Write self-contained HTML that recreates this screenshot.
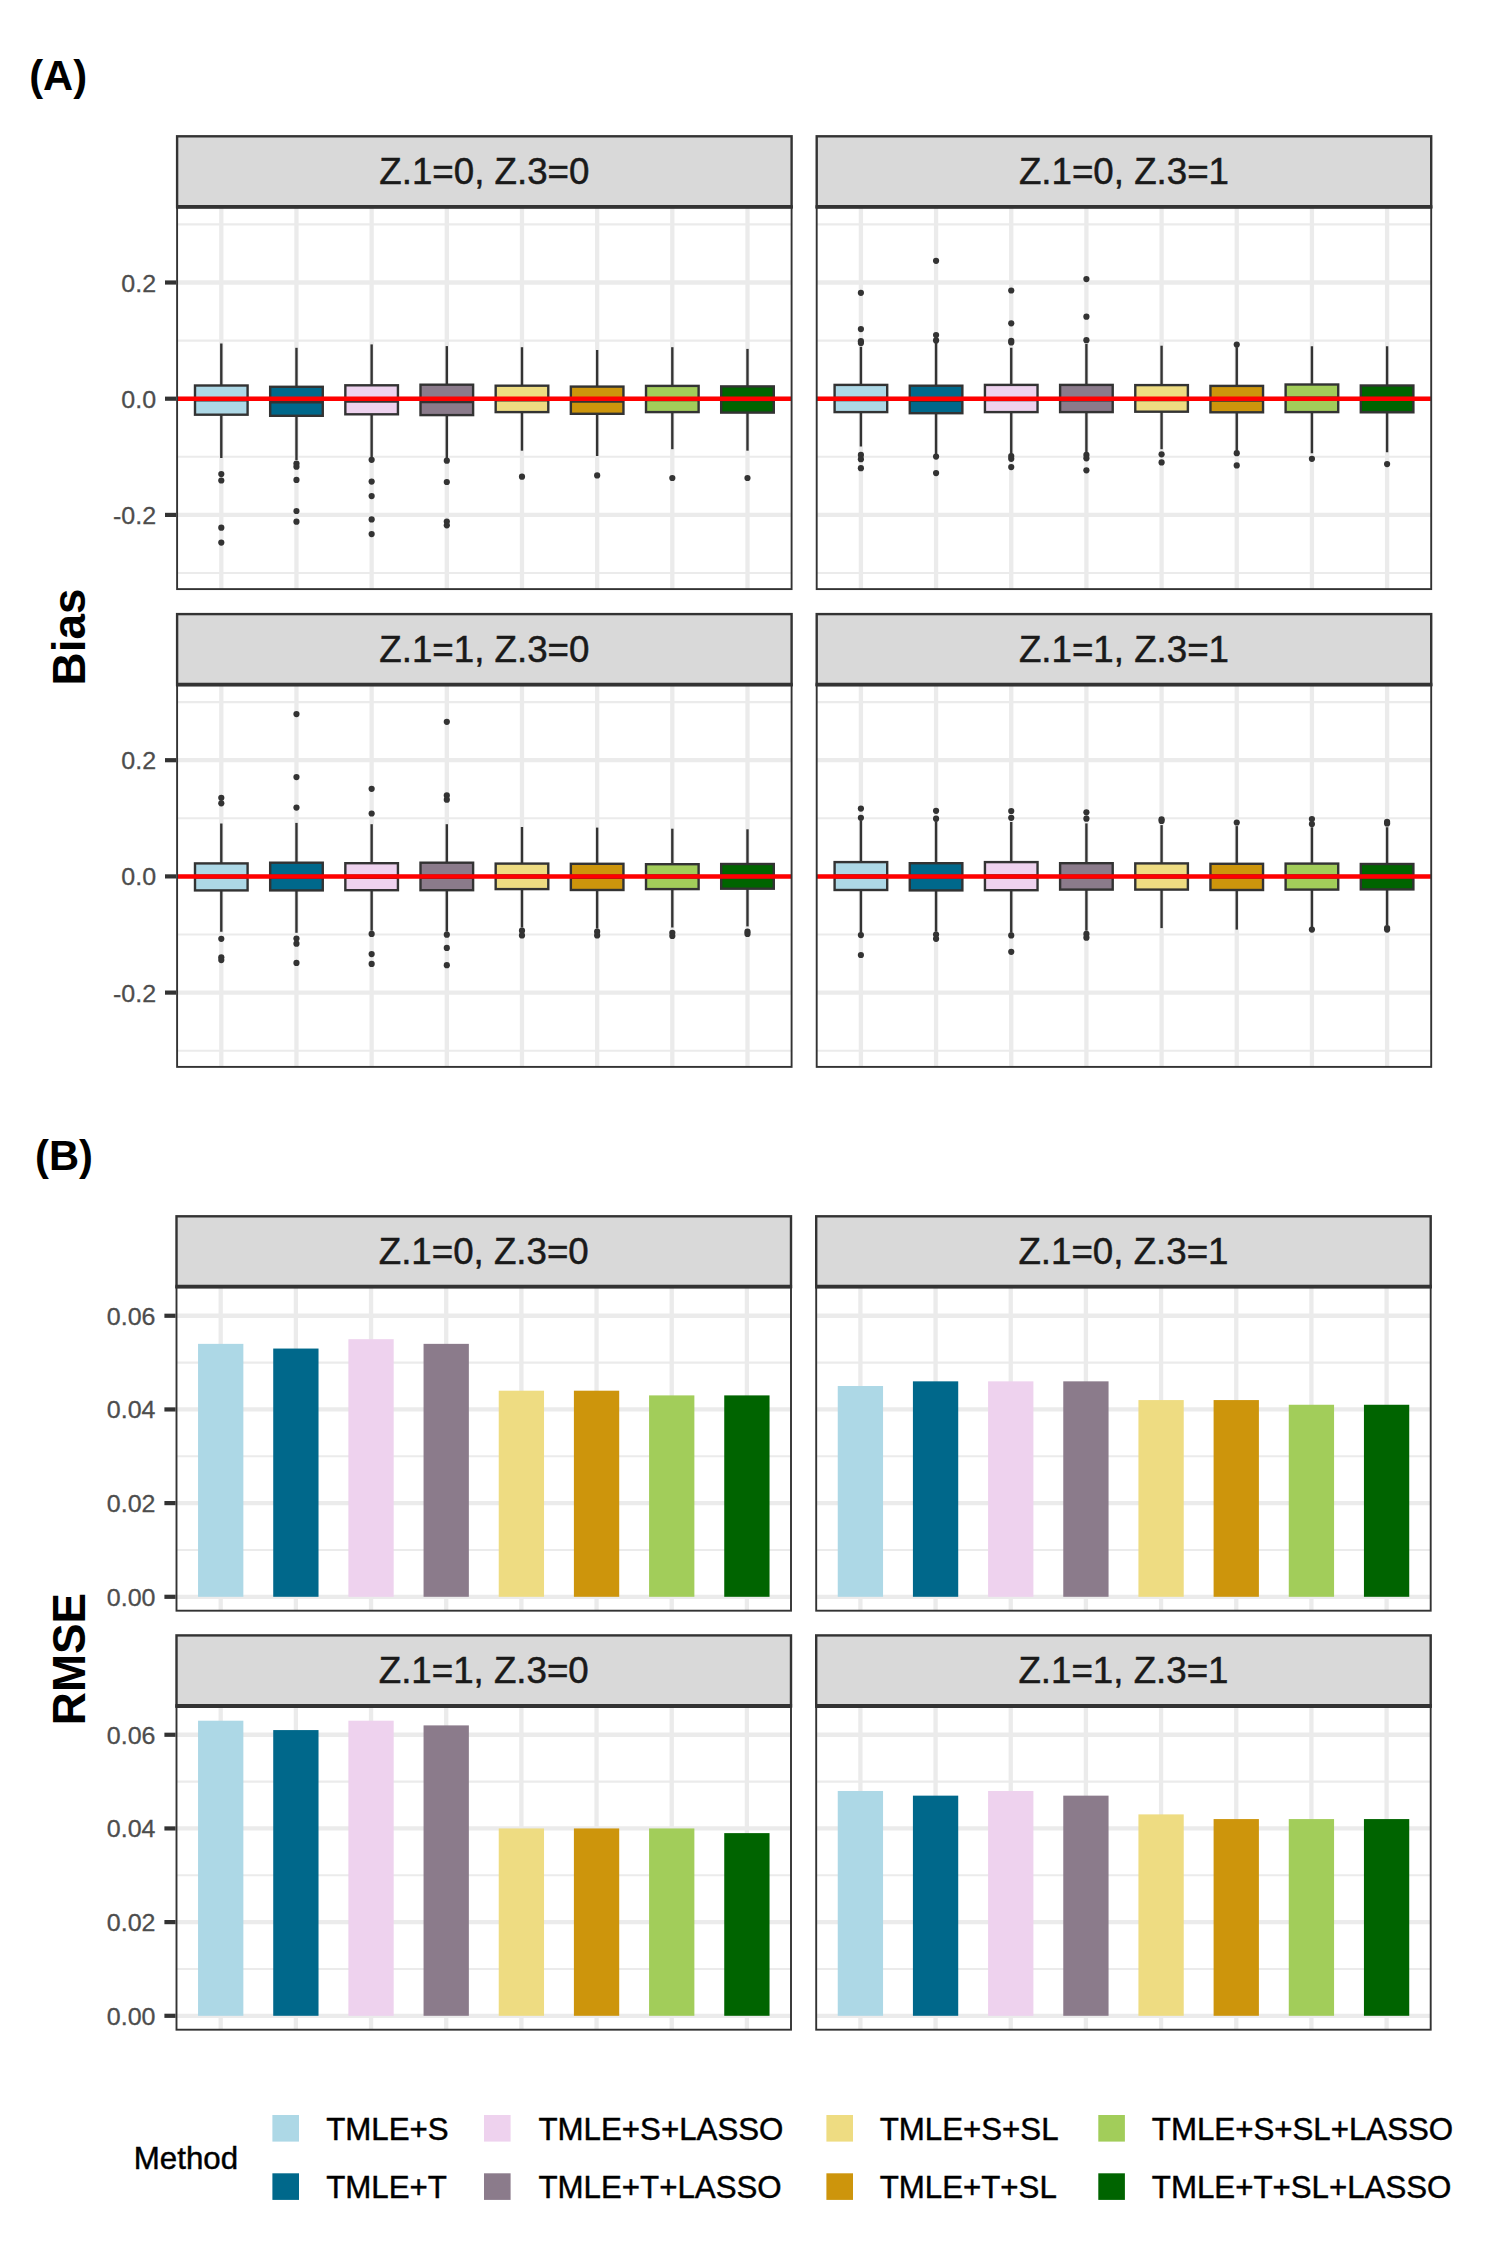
<!DOCTYPE html>
<html lang="en">
<head>
<meta charset="utf-8">
<title>Bias and RMSE by method</title>
<style>html,body{margin:0;padding:0;background:#fff}svg{display:block}</style>
</head>
<body>
<svg width="1500" height="2250" viewBox="0 0 1500 2250" font-family='"Liberation Sans", sans-serif'>
<rect width="1500" height="2250" fill="#fff"/>
<text x="29.2" y="90.3" font-size="41.7" font-weight="bold" fill="#000">(A)</text>
<text x="35.0" y="1170.3" font-size="41.7" font-weight="bold" fill="#000">(B)</text>
<clipPath id="c1"><rect x="177.1" y="207.1" width="614.5" height="382"/></clipPath>
<g clip-path="url(#c1)">
<rect x="177.1" y="207.1" width="614.5" height="382" fill="#fff"/>
<line x1="177.1" x2="791.6" y1="224.4" y2="224.4" stroke="#EBEBEB" stroke-width="2.1"/>
<line x1="177.1" x2="791.6" y1="340.6" y2="340.6" stroke="#EBEBEB" stroke-width="2.1"/>
<line x1="177.1" x2="791.6" y1="456.8" y2="456.8" stroke="#EBEBEB" stroke-width="2.1"/>
<line x1="177.1" x2="791.6" y1="573" y2="573" stroke="#EBEBEB" stroke-width="2.1"/>
<line x1="177.1" x2="791.6" y1="282.5" y2="282.5" stroke="#EBEBEB" stroke-width="4.3"/>
<line x1="177.1" x2="791.6" y1="398.7" y2="398.7" stroke="#EBEBEB" stroke-width="4.3"/>
<line x1="177.1" x2="791.6" y1="514.9" y2="514.9" stroke="#EBEBEB" stroke-width="4.3"/>
<line x1="221.3" x2="221.3" y1="207.1" y2="589.1" stroke="#EBEBEB" stroke-width="4.3"/>
<line x1="296.47" x2="296.47" y1="207.1" y2="589.1" stroke="#EBEBEB" stroke-width="4.3"/>
<line x1="371.64" x2="371.64" y1="207.1" y2="589.1" stroke="#EBEBEB" stroke-width="4.3"/>
<line x1="446.81" x2="446.81" y1="207.1" y2="589.1" stroke="#EBEBEB" stroke-width="4.3"/>
<line x1="521.98" x2="521.98" y1="207.1" y2="589.1" stroke="#EBEBEB" stroke-width="4.3"/>
<line x1="597.15" x2="597.15" y1="207.1" y2="589.1" stroke="#EBEBEB" stroke-width="4.3"/>
<line x1="672.32" x2="672.32" y1="207.1" y2="589.1" stroke="#EBEBEB" stroke-width="4.3"/>
<line x1="747.49" x2="747.49" y1="207.1" y2="589.1" stroke="#EBEBEB" stroke-width="4.3"/>
<circle cx="221.3" cy="474.1" r="3.1" fill="#333333"/>
<circle cx="221.3" cy="480.5" r="3.1" fill="#333333"/>
<circle cx="221.3" cy="527.7" r="3.1" fill="#333333"/>
<circle cx="221.3" cy="542.6" r="3.1" fill="#333333"/>
<line x1="221.3" x2="221.3" y1="343.4" y2="385.5" stroke="#333333" stroke-width="2.4"/>
<line x1="221.3" x2="221.3" y1="414.7" y2="458.1" stroke="#333333" stroke-width="2.4"/>
<rect x="195" y="385.5" width="52.6" height="29.2" fill="#ADD8E6" stroke="#333333" stroke-width="2.4"/>
<line x1="195" x2="247.6" y1="399.3" y2="399.3" stroke="#333333" stroke-width="4.4"/>
<circle cx="296.47" cy="463.5" r="3.1" fill="#333333"/>
<circle cx="296.47" cy="466.7" r="3.1" fill="#333333"/>
<circle cx="296.47" cy="479.9" r="3.1" fill="#333333"/>
<circle cx="296.47" cy="511" r="3.1" fill="#333333"/>
<circle cx="296.47" cy="521.7" r="3.1" fill="#333333"/>
<line x1="296.47" x2="296.47" y1="347.8" y2="386.8" stroke="#333333" stroke-width="2.4"/>
<line x1="296.47" x2="296.47" y1="415.8" y2="460" stroke="#333333" stroke-width="2.4"/>
<rect x="270.17" y="386.8" width="52.6" height="29" fill="#00688B" stroke="#333333" stroke-width="2.4"/>
<line x1="270.17" x2="322.77" y1="401.4" y2="401.4" stroke="#333333" stroke-width="4.4"/>
<circle cx="371.64" cy="459.8" r="3.1" fill="#333333"/>
<circle cx="371.64" cy="481.6" r="3.1" fill="#333333"/>
<circle cx="371.64" cy="496.1" r="3.1" fill="#333333"/>
<circle cx="371.64" cy="519.4" r="3.1" fill="#333333"/>
<circle cx="371.64" cy="534.1" r="3.1" fill="#333333"/>
<line x1="371.64" x2="371.64" y1="344.4" y2="385.3" stroke="#333333" stroke-width="2.4"/>
<line x1="371.64" x2="371.64" y1="414.3" y2="457" stroke="#333333" stroke-width="2.4"/>
<rect x="345.34" y="385.3" width="52.6" height="29" fill="#EED2EE" stroke="#333333" stroke-width="2.4"/>
<line x1="345.34" x2="397.94" y1="400.5" y2="400.5" stroke="#333333" stroke-width="4.4"/>
<circle cx="446.81" cy="460.7" r="3.1" fill="#333333"/>
<circle cx="446.81" cy="482" r="3.1" fill="#333333"/>
<circle cx="446.81" cy="521.5" r="3.1" fill="#333333"/>
<circle cx="446.81" cy="525.3" r="3.1" fill="#333333"/>
<line x1="446.81" x2="446.81" y1="346.1" y2="384.7" stroke="#333333" stroke-width="2.4"/>
<line x1="446.81" x2="446.81" y1="415.1" y2="458" stroke="#333333" stroke-width="2.4"/>
<rect x="420.51" y="384.7" width="52.6" height="30.4" fill="#8B7B8B" stroke="#333333" stroke-width="2.4"/>
<line x1="420.51" x2="473.11" y1="401" y2="401" stroke="#333333" stroke-width="4.4"/>
<circle cx="521.98" cy="476.7" r="3.1" fill="#333333"/>
<line x1="521.98" x2="521.98" y1="347.2" y2="385.7" stroke="#333333" stroke-width="2.4"/>
<line x1="521.98" x2="521.98" y1="412.1" y2="450.7" stroke="#333333" stroke-width="2.4"/>
<rect x="495.68" y="385.7" width="52.6" height="26.4" fill="#EEDC82" stroke="#333333" stroke-width="2.4"/>
<line x1="495.68" x2="548.28" y1="399.3" y2="399.3" stroke="#333333" stroke-width="4.4"/>
<circle cx="597.15" cy="475.4" r="3.1" fill="#333333"/>
<line x1="597.15" x2="597.15" y1="350" y2="386.6" stroke="#333333" stroke-width="2.4"/>
<line x1="597.15" x2="597.15" y1="413.8" y2="456" stroke="#333333" stroke-width="2.4"/>
<rect x="570.85" y="386.6" width="52.6" height="27.2" fill="#CD950C" stroke="#333333" stroke-width="2.4"/>
<line x1="570.85" x2="623.45" y1="400.5" y2="400.5" stroke="#333333" stroke-width="4.4"/>
<circle cx="672.32" cy="478" r="3.1" fill="#333333"/>
<line x1="672.32" x2="672.32" y1="347.2" y2="385.9" stroke="#333333" stroke-width="2.4"/>
<line x1="672.32" x2="672.32" y1="412.1" y2="449.2" stroke="#333333" stroke-width="2.4"/>
<rect x="646.02" y="385.9" width="52.6" height="26.2" fill="#A2CD5A" stroke="#333333" stroke-width="2.4"/>
<line x1="646.02" x2="698.62" y1="399.1" y2="399.1" stroke="#333333" stroke-width="4.4"/>
<circle cx="747.49" cy="478" r="3.1" fill="#333333"/>
<line x1="747.49" x2="747.49" y1="348.9" y2="386.4" stroke="#333333" stroke-width="2.4"/>
<line x1="747.49" x2="747.49" y1="412.6" y2="450.7" stroke="#333333" stroke-width="2.4"/>
<rect x="721.19" y="386.4" width="52.6" height="26.2" fill="#006400" stroke="#333333" stroke-width="2.4"/>
<line x1="721.19" x2="773.79" y1="399.2" y2="399.2" stroke="#333333" stroke-width="4.4"/>
<line x1="177.1" x2="791.6" y1="398.7" y2="398.7" stroke="#FF0000" stroke-width="4.5"/>
</g>
<rect x="177.1" y="207.1" width="614.5" height="382" fill="none" stroke="#333333" stroke-width="1.9"/>
<rect x="177.1" y="136.3" width="614.5" height="70.8" fill="#D9D9D9" stroke="#333333" stroke-width="2.4"/>
<line x1="176" x2="792.7" y1="206.8" y2="206.8" stroke="#333333" stroke-width="3.8"/>
<text x="484.35" y="184.1" font-size="36.7" text-anchor="middle" fill="#1A1A1A" stroke="#1A1A1A" stroke-width="0.5">Z.1=0, Z.3=0</text>
<clipPath id="c2"><rect x="816.7" y="207.1" width="614.5" height="382"/></clipPath>
<g clip-path="url(#c2)">
<rect x="816.7" y="207.1" width="614.5" height="382" fill="#fff"/>
<line x1="816.7" x2="1431.2" y1="224.4" y2="224.4" stroke="#EBEBEB" stroke-width="2.1"/>
<line x1="816.7" x2="1431.2" y1="340.6" y2="340.6" stroke="#EBEBEB" stroke-width="2.1"/>
<line x1="816.7" x2="1431.2" y1="456.8" y2="456.8" stroke="#EBEBEB" stroke-width="2.1"/>
<line x1="816.7" x2="1431.2" y1="573" y2="573" stroke="#EBEBEB" stroke-width="2.1"/>
<line x1="816.7" x2="1431.2" y1="282.5" y2="282.5" stroke="#EBEBEB" stroke-width="4.3"/>
<line x1="816.7" x2="1431.2" y1="398.7" y2="398.7" stroke="#EBEBEB" stroke-width="4.3"/>
<line x1="816.7" x2="1431.2" y1="514.9" y2="514.9" stroke="#EBEBEB" stroke-width="4.3"/>
<line x1="860.9" x2="860.9" y1="207.1" y2="589.1" stroke="#EBEBEB" stroke-width="4.3"/>
<line x1="936.07" x2="936.07" y1="207.1" y2="589.1" stroke="#EBEBEB" stroke-width="4.3"/>
<line x1="1011.24" x2="1011.24" y1="207.1" y2="589.1" stroke="#EBEBEB" stroke-width="4.3"/>
<line x1="1086.41" x2="1086.41" y1="207.1" y2="589.1" stroke="#EBEBEB" stroke-width="4.3"/>
<line x1="1161.58" x2="1161.58" y1="207.1" y2="589.1" stroke="#EBEBEB" stroke-width="4.3"/>
<line x1="1236.75" x2="1236.75" y1="207.1" y2="589.1" stroke="#EBEBEB" stroke-width="4.3"/>
<line x1="1311.92" x2="1311.92" y1="207.1" y2="589.1" stroke="#EBEBEB" stroke-width="4.3"/>
<line x1="1387.09" x2="1387.09" y1="207.1" y2="589.1" stroke="#EBEBEB" stroke-width="4.3"/>
<circle cx="860.9" cy="292.8" r="3.1" fill="#333333"/>
<circle cx="860.9" cy="329.1" r="3.1" fill="#333333"/>
<circle cx="860.9" cy="341.2" r="3.1" fill="#333333"/>
<circle cx="860.9" cy="342.9" r="3.1" fill="#333333"/>
<circle cx="860.9" cy="454.9" r="3.1" fill="#333333"/>
<circle cx="860.9" cy="459.2" r="3.1" fill="#333333"/>
<circle cx="860.9" cy="468.2" r="3.1" fill="#333333"/>
<line x1="860.9" x2="860.9" y1="346.8" y2="384.9" stroke="#333333" stroke-width="2.4"/>
<line x1="860.9" x2="860.9" y1="412.1" y2="446.4" stroke="#333333" stroke-width="2.4"/>
<rect x="834.6" y="384.9" width="52.6" height="27.2" fill="#ADD8E6" stroke="#333333" stroke-width="2.4"/>
<line x1="834.6" x2="887.2" y1="399" y2="399" stroke="#333333" stroke-width="4.4"/>
<circle cx="936.07" cy="260.8" r="3.1" fill="#333333"/>
<circle cx="936.07" cy="335" r="3.1" fill="#333333"/>
<circle cx="936.07" cy="340.4" r="3.1" fill="#333333"/>
<circle cx="936.07" cy="456.6" r="3.1" fill="#333333"/>
<circle cx="936.07" cy="473.1" r="3.1" fill="#333333"/>
<line x1="936.07" x2="936.07" y1="342.9" y2="385.7" stroke="#333333" stroke-width="2.4"/>
<line x1="936.07" x2="936.07" y1="413.2" y2="453.9" stroke="#333333" stroke-width="2.4"/>
<rect x="909.77" y="385.7" width="52.6" height="27.5" fill="#00688B" stroke="#333333" stroke-width="2.4"/>
<line x1="909.77" x2="962.37" y1="399.7" y2="399.7" stroke="#333333" stroke-width="4.4"/>
<circle cx="1011.24" cy="290.5" r="3.1" fill="#333333"/>
<circle cx="1011.24" cy="323.3" r="3.1" fill="#333333"/>
<circle cx="1011.24" cy="340.8" r="3.1" fill="#333333"/>
<circle cx="1011.24" cy="342.5" r="3.1" fill="#333333"/>
<circle cx="1011.24" cy="456" r="3.1" fill="#333333"/>
<circle cx="1011.24" cy="458.8" r="3.1" fill="#333333"/>
<circle cx="1011.24" cy="467.1" r="3.1" fill="#333333"/>
<line x1="1011.24" x2="1011.24" y1="347.8" y2="384.9" stroke="#333333" stroke-width="2.4"/>
<line x1="1011.24" x2="1011.24" y1="412.1" y2="453.9" stroke="#333333" stroke-width="2.4"/>
<rect x="984.94" y="384.9" width="52.6" height="27.2" fill="#EED2EE" stroke="#333333" stroke-width="2.4"/>
<line x1="984.94" x2="1037.54" y1="399.1" y2="399.1" stroke="#333333" stroke-width="4.4"/>
<circle cx="1086.41" cy="279.1" r="3.1" fill="#333333"/>
<circle cx="1086.41" cy="316.7" r="3.1" fill="#333333"/>
<circle cx="1086.41" cy="340.2" r="3.1" fill="#333333"/>
<circle cx="1086.41" cy="454.9" r="3.1" fill="#333333"/>
<circle cx="1086.41" cy="458.3" r="3.1" fill="#333333"/>
<circle cx="1086.41" cy="470.3" r="3.1" fill="#333333"/>
<line x1="1086.41" x2="1086.41" y1="344" y2="384.9" stroke="#333333" stroke-width="2.4"/>
<line x1="1086.41" x2="1086.41" y1="412.1" y2="452.8" stroke="#333333" stroke-width="2.4"/>
<rect x="1060.11" y="384.9" width="52.6" height="27.2" fill="#8B7B8B" stroke="#333333" stroke-width="2.4"/>
<line x1="1060.11" x2="1112.71" y1="399.3" y2="399.3" stroke="#333333" stroke-width="4.4"/>
<circle cx="1161.58" cy="454.3" r="3.1" fill="#333333"/>
<circle cx="1161.58" cy="462.4" r="3.1" fill="#333333"/>
<line x1="1161.58" x2="1161.58" y1="345.7" y2="385.1" stroke="#333333" stroke-width="2.4"/>
<line x1="1161.58" x2="1161.58" y1="411.7" y2="449.2" stroke="#333333" stroke-width="2.4"/>
<rect x="1135.28" y="385.1" width="52.6" height="26.6" fill="#EEDC82" stroke="#333333" stroke-width="2.4"/>
<line x1="1135.28" x2="1187.88" y1="399.1" y2="399.1" stroke="#333333" stroke-width="4.4"/>
<circle cx="1236.75" cy="344.6" r="3.1" fill="#333333"/>
<circle cx="1236.75" cy="453.2" r="3.1" fill="#333333"/>
<circle cx="1236.75" cy="465.4" r="3.1" fill="#333333"/>
<line x1="1236.75" x2="1236.75" y1="347.2" y2="385.9" stroke="#333333" stroke-width="2.4"/>
<line x1="1236.75" x2="1236.75" y1="412.3" y2="450.7" stroke="#333333" stroke-width="2.4"/>
<rect x="1210.45" y="385.9" width="52.6" height="26.4" fill="#CD950C" stroke="#333333" stroke-width="2.4"/>
<line x1="1210.45" x2="1263.05" y1="399.6" y2="399.6" stroke="#333333" stroke-width="4.4"/>
<circle cx="1311.92" cy="458.8" r="3.1" fill="#333333"/>
<line x1="1311.92" x2="1311.92" y1="346.3" y2="384.5" stroke="#333333" stroke-width="2.4"/>
<line x1="1311.92" x2="1311.92" y1="412.1" y2="453.2" stroke="#333333" stroke-width="2.4"/>
<rect x="1285.62" y="384.5" width="52.6" height="27.6" fill="#A2CD5A" stroke="#333333" stroke-width="2.4"/>
<line x1="1285.62" x2="1338.22" y1="398.7" y2="398.7" stroke="#333333" stroke-width="4.4"/>
<circle cx="1387.09" cy="464.1" r="3.1" fill="#333333"/>
<line x1="1387.09" x2="1387.09" y1="346.3" y2="385.5" stroke="#333333" stroke-width="2.4"/>
<line x1="1387.09" x2="1387.09" y1="412.3" y2="452.2" stroke="#333333" stroke-width="2.4"/>
<rect x="1360.79" y="385.5" width="52.6" height="26.8" fill="#006400" stroke="#333333" stroke-width="2.4"/>
<line x1="1360.79" x2="1413.39" y1="398.9" y2="398.9" stroke="#333333" stroke-width="4.4"/>
<line x1="816.7" x2="1431.2" y1="398.7" y2="398.7" stroke="#FF0000" stroke-width="4.5"/>
</g>
<rect x="816.7" y="207.1" width="614.5" height="382" fill="none" stroke="#333333" stroke-width="1.9"/>
<rect x="816.7" y="136.3" width="614.5" height="70.8" fill="#D9D9D9" stroke="#333333" stroke-width="2.4"/>
<line x1="815.6" x2="1432.3" y1="206.8" y2="206.8" stroke="#333333" stroke-width="3.8"/>
<text x="1123.95" y="184.1" font-size="36.7" text-anchor="middle" fill="#1A1A1A" stroke="#1A1A1A" stroke-width="0.5">Z.1=0, Z.3=1</text>
<line x1="165" x2="176.2" y1="282.5" y2="282.5" stroke="#333333" stroke-width="4.2"/>
<text transform="translate(156.1,291.5) scale(1,0.925)" font-size="25" text-anchor="end" fill="#4D4D4D" stroke="#4D4D4D" stroke-width="0.3">0.2</text>
<line x1="165" x2="176.2" y1="398.7" y2="398.7" stroke="#333333" stroke-width="4.2"/>
<text transform="translate(156.1,407.7) scale(1,0.925)" font-size="25" text-anchor="end" fill="#4D4D4D" stroke="#4D4D4D" stroke-width="0.3">0.0</text>
<line x1="165" x2="176.2" y1="514.9" y2="514.9" stroke="#333333" stroke-width="4.2"/>
<text transform="translate(156.1,523.9) scale(1,0.925)" font-size="25" text-anchor="end" fill="#4D4D4D" stroke="#4D4D4D" stroke-width="0.3">-0.2</text>
<clipPath id="c3"><rect x="177.1" y="684.9" width="614.5" height="382"/></clipPath>
<g clip-path="url(#c3)">
<rect x="177.1" y="684.9" width="614.5" height="382" fill="#fff"/>
<line x1="177.1" x2="791.6" y1="702.1" y2="702.1" stroke="#EBEBEB" stroke-width="2.1"/>
<line x1="177.1" x2="791.6" y1="818.3" y2="818.3" stroke="#EBEBEB" stroke-width="2.1"/>
<line x1="177.1" x2="791.6" y1="934.5" y2="934.5" stroke="#EBEBEB" stroke-width="2.1"/>
<line x1="177.1" x2="791.6" y1="1050.7" y2="1050.7" stroke="#EBEBEB" stroke-width="2.1"/>
<line x1="177.1" x2="791.6" y1="760.2" y2="760.2" stroke="#EBEBEB" stroke-width="4.3"/>
<line x1="177.1" x2="791.6" y1="876.4" y2="876.4" stroke="#EBEBEB" stroke-width="4.3"/>
<line x1="177.1" x2="791.6" y1="992.6" y2="992.6" stroke="#EBEBEB" stroke-width="4.3"/>
<line x1="221.3" x2="221.3" y1="684.9" y2="1066.9" stroke="#EBEBEB" stroke-width="4.3"/>
<line x1="296.47" x2="296.47" y1="684.9" y2="1066.9" stroke="#EBEBEB" stroke-width="4.3"/>
<line x1="371.64" x2="371.64" y1="684.9" y2="1066.9" stroke="#EBEBEB" stroke-width="4.3"/>
<line x1="446.81" x2="446.81" y1="684.9" y2="1066.9" stroke="#EBEBEB" stroke-width="4.3"/>
<line x1="521.98" x2="521.98" y1="684.9" y2="1066.9" stroke="#EBEBEB" stroke-width="4.3"/>
<line x1="597.15" x2="597.15" y1="684.9" y2="1066.9" stroke="#EBEBEB" stroke-width="4.3"/>
<line x1="672.32" x2="672.32" y1="684.9" y2="1066.9" stroke="#EBEBEB" stroke-width="4.3"/>
<line x1="747.49" x2="747.49" y1="684.9" y2="1066.9" stroke="#EBEBEB" stroke-width="4.3"/>
<circle cx="221.3" cy="797.8" r="3.1" fill="#333333"/>
<circle cx="221.3" cy="803.3" r="3.1" fill="#333333"/>
<circle cx="221.3" cy="938.8" r="3.1" fill="#333333"/>
<circle cx="221.3" cy="957.3" r="3.1" fill="#333333"/>
<circle cx="221.3" cy="960.1" r="3.1" fill="#333333"/>
<line x1="221.3" x2="221.3" y1="823.4" y2="863.4" stroke="#333333" stroke-width="2.4"/>
<line x1="221.3" x2="221.3" y1="890.4" y2="931.7" stroke="#333333" stroke-width="2.4"/>
<rect x="195" y="863.4" width="52.6" height="27" fill="#ADD8E6" stroke="#333333" stroke-width="2.4"/>
<line x1="195" x2="247.6" y1="876.6" y2="876.6" stroke="#333333" stroke-width="4.4"/>
<circle cx="296.47" cy="714.1" r="3.1" fill="#333333"/>
<circle cx="296.47" cy="777.1" r="3.1" fill="#333333"/>
<circle cx="296.47" cy="807.6" r="3.1" fill="#333333"/>
<circle cx="296.47" cy="938.6" r="3.1" fill="#333333"/>
<circle cx="296.47" cy="943.7" r="3.1" fill="#333333"/>
<circle cx="296.47" cy="962.9" r="3.1" fill="#333333"/>
<line x1="296.47" x2="296.47" y1="822.9" y2="862.7" stroke="#333333" stroke-width="2.4"/>
<line x1="296.47" x2="296.47" y1="890.4" y2="932.8" stroke="#333333" stroke-width="2.4"/>
<rect x="270.17" y="862.7" width="52.6" height="27.7" fill="#00688B" stroke="#333333" stroke-width="2.4"/>
<line x1="270.17" x2="322.77" y1="876.8" y2="876.8" stroke="#333333" stroke-width="4.4"/>
<circle cx="371.64" cy="788.8" r="3.1" fill="#333333"/>
<circle cx="371.64" cy="813.5" r="3.1" fill="#333333"/>
<circle cx="371.64" cy="933.9" r="3.1" fill="#333333"/>
<circle cx="371.64" cy="954.1" r="3.1" fill="#333333"/>
<circle cx="371.64" cy="963.9" r="3.1" fill="#333333"/>
<line x1="371.64" x2="371.64" y1="824.2" y2="863.2" stroke="#333333" stroke-width="2.4"/>
<line x1="371.64" x2="371.64" y1="890.2" y2="930.7" stroke="#333333" stroke-width="2.4"/>
<rect x="345.34" y="863.2" width="52.6" height="27" fill="#EED2EE" stroke="#333333" stroke-width="2.4"/>
<line x1="345.34" x2="397.94" y1="876.8" y2="876.8" stroke="#333333" stroke-width="4.4"/>
<circle cx="446.81" cy="721.8" r="3.1" fill="#333333"/>
<circle cx="446.81" cy="795.4" r="3.1" fill="#333333"/>
<circle cx="446.81" cy="799.7" r="3.1" fill="#333333"/>
<circle cx="446.81" cy="934.7" r="3.1" fill="#333333"/>
<circle cx="446.81" cy="947.9" r="3.1" fill="#333333"/>
<circle cx="446.81" cy="965.2" r="3.1" fill="#333333"/>
<line x1="446.81" x2="446.81" y1="824.2" y2="862.7" stroke="#333333" stroke-width="2.4"/>
<line x1="446.81" x2="446.81" y1="890.2" y2="931.7" stroke="#333333" stroke-width="2.4"/>
<rect x="420.51" y="862.7" width="52.6" height="27.5" fill="#8B7B8B" stroke="#333333" stroke-width="2.4"/>
<line x1="420.51" x2="473.11" y1="876.8" y2="876.8" stroke="#333333" stroke-width="4.4"/>
<circle cx="521.98" cy="930.7" r="3.1" fill="#333333"/>
<circle cx="521.98" cy="935.4" r="3.1" fill="#333333"/>
<line x1="521.98" x2="521.98" y1="827" y2="863.6" stroke="#333333" stroke-width="2.4"/>
<line x1="521.98" x2="521.98" y1="889.1" y2="927.5" stroke="#333333" stroke-width="2.4"/>
<rect x="495.68" y="863.6" width="52.6" height="25.5" fill="#EEDC82" stroke="#333333" stroke-width="2.4"/>
<line x1="495.68" x2="548.28" y1="876.5" y2="876.5" stroke="#333333" stroke-width="4.4"/>
<circle cx="597.15" cy="931.7" r="3.1" fill="#333333"/>
<circle cx="597.15" cy="935.4" r="3.1" fill="#333333"/>
<line x1="597.15" x2="597.15" y1="827.6" y2="863.8" stroke="#333333" stroke-width="2.4"/>
<line x1="597.15" x2="597.15" y1="890" y2="928.5" stroke="#333333" stroke-width="2.4"/>
<rect x="570.85" y="863.8" width="52.6" height="26.2" fill="#CD950C" stroke="#333333" stroke-width="2.4"/>
<line x1="570.85" x2="623.45" y1="876.8" y2="876.8" stroke="#333333" stroke-width="4.4"/>
<circle cx="672.32" cy="932.8" r="3.1" fill="#333333"/>
<circle cx="672.32" cy="936" r="3.1" fill="#333333"/>
<line x1="672.32" x2="672.32" y1="828.7" y2="864.2" stroke="#333333" stroke-width="2.4"/>
<line x1="672.32" x2="672.32" y1="889.1" y2="927.5" stroke="#333333" stroke-width="2.4"/>
<rect x="646.02" y="864.2" width="52.6" height="24.9" fill="#A2CD5A" stroke="#333333" stroke-width="2.4"/>
<line x1="646.02" x2="698.62" y1="876.5" y2="876.5" stroke="#333333" stroke-width="4.4"/>
<circle cx="747.49" cy="931.7" r="3.1" fill="#333333"/>
<circle cx="747.49" cy="933.9" r="3.1" fill="#333333"/>
<line x1="747.49" x2="747.49" y1="829.3" y2="864" stroke="#333333" stroke-width="2.4"/>
<line x1="747.49" x2="747.49" y1="888.7" y2="926.4" stroke="#333333" stroke-width="2.4"/>
<rect x="721.19" y="864" width="52.6" height="24.7" fill="#006400" stroke="#333333" stroke-width="2.4"/>
<line x1="721.19" x2="773.79" y1="876.5" y2="876.5" stroke="#333333" stroke-width="4.4"/>
<line x1="177.1" x2="791.6" y1="876.4" y2="876.4" stroke="#FF0000" stroke-width="4.5"/>
</g>
<rect x="177.1" y="684.9" width="614.5" height="382" fill="none" stroke="#333333" stroke-width="1.9"/>
<rect x="177.1" y="614.1" width="614.5" height="70.8" fill="#D9D9D9" stroke="#333333" stroke-width="2.4"/>
<line x1="176" x2="792.7" y1="684.6" y2="684.6" stroke="#333333" stroke-width="3.8"/>
<text x="484.35" y="661.9" font-size="36.7" text-anchor="middle" fill="#1A1A1A" stroke="#1A1A1A" stroke-width="0.5">Z.1=1, Z.3=0</text>
<clipPath id="c4"><rect x="816.7" y="684.9" width="614.5" height="382"/></clipPath>
<g clip-path="url(#c4)">
<rect x="816.7" y="684.9" width="614.5" height="382" fill="#fff"/>
<line x1="816.7" x2="1431.2" y1="702.1" y2="702.1" stroke="#EBEBEB" stroke-width="2.1"/>
<line x1="816.7" x2="1431.2" y1="818.3" y2="818.3" stroke="#EBEBEB" stroke-width="2.1"/>
<line x1="816.7" x2="1431.2" y1="934.5" y2="934.5" stroke="#EBEBEB" stroke-width="2.1"/>
<line x1="816.7" x2="1431.2" y1="1050.7" y2="1050.7" stroke="#EBEBEB" stroke-width="2.1"/>
<line x1="816.7" x2="1431.2" y1="760.2" y2="760.2" stroke="#EBEBEB" stroke-width="4.3"/>
<line x1="816.7" x2="1431.2" y1="876.4" y2="876.4" stroke="#EBEBEB" stroke-width="4.3"/>
<line x1="816.7" x2="1431.2" y1="992.6" y2="992.6" stroke="#EBEBEB" stroke-width="4.3"/>
<line x1="860.9" x2="860.9" y1="684.9" y2="1066.9" stroke="#EBEBEB" stroke-width="4.3"/>
<line x1="936.07" x2="936.07" y1="684.9" y2="1066.9" stroke="#EBEBEB" stroke-width="4.3"/>
<line x1="1011.24" x2="1011.24" y1="684.9" y2="1066.9" stroke="#EBEBEB" stroke-width="4.3"/>
<line x1="1086.41" x2="1086.41" y1="684.9" y2="1066.9" stroke="#EBEBEB" stroke-width="4.3"/>
<line x1="1161.58" x2="1161.58" y1="684.9" y2="1066.9" stroke="#EBEBEB" stroke-width="4.3"/>
<line x1="1236.75" x2="1236.75" y1="684.9" y2="1066.9" stroke="#EBEBEB" stroke-width="4.3"/>
<line x1="1311.92" x2="1311.92" y1="684.9" y2="1066.9" stroke="#EBEBEB" stroke-width="4.3"/>
<line x1="1387.09" x2="1387.09" y1="684.9" y2="1066.9" stroke="#EBEBEB" stroke-width="4.3"/>
<circle cx="860.9" cy="808.6" r="3.1" fill="#333333"/>
<circle cx="860.9" cy="817.8" r="3.1" fill="#333333"/>
<circle cx="860.9" cy="935.1" r="3.1" fill="#333333"/>
<circle cx="860.9" cy="955" r="3.1" fill="#333333"/>
<line x1="860.9" x2="860.9" y1="820.8" y2="862.1" stroke="#333333" stroke-width="2.4"/>
<line x1="860.9" x2="860.9" y1="890" y2="932.8" stroke="#333333" stroke-width="2.4"/>
<rect x="834.6" y="862.1" width="52.6" height="27.9" fill="#ADD8E6" stroke="#333333" stroke-width="2.4"/>
<line x1="834.6" x2="887.2" y1="876.5" y2="876.5" stroke="#333333" stroke-width="4.4"/>
<circle cx="936.07" cy="810.8" r="3.1" fill="#333333"/>
<circle cx="936.07" cy="818.7" r="3.1" fill="#333333"/>
<circle cx="936.07" cy="934.5" r="3.1" fill="#333333"/>
<circle cx="936.07" cy="938.8" r="3.1" fill="#333333"/>
<line x1="936.07" x2="936.07" y1="821.2" y2="863.2" stroke="#333333" stroke-width="2.4"/>
<line x1="936.07" x2="936.07" y1="890.4" y2="931.7" stroke="#333333" stroke-width="2.4"/>
<rect x="909.77" y="863.2" width="52.6" height="27.2" fill="#00688B" stroke="#333333" stroke-width="2.4"/>
<line x1="909.77" x2="962.37" y1="876.6" y2="876.6" stroke="#333333" stroke-width="4.4"/>
<circle cx="1011.24" cy="811" r="3.1" fill="#333333"/>
<circle cx="1011.24" cy="817.8" r="3.1" fill="#333333"/>
<circle cx="1011.24" cy="935.4" r="3.1" fill="#333333"/>
<circle cx="1011.24" cy="951.8" r="3.1" fill="#333333"/>
<line x1="1011.24" x2="1011.24" y1="821.9" y2="862.1" stroke="#333333" stroke-width="2.4"/>
<line x1="1011.24" x2="1011.24" y1="890.2" y2="932.8" stroke="#333333" stroke-width="2.4"/>
<rect x="984.94" y="862.1" width="52.6" height="28.1" fill="#EED2EE" stroke="#333333" stroke-width="2.4"/>
<line x1="984.94" x2="1037.54" y1="876.5" y2="876.5" stroke="#333333" stroke-width="4.4"/>
<circle cx="1086.41" cy="812.3" r="3.1" fill="#333333"/>
<circle cx="1086.41" cy="818.7" r="3.1" fill="#333333"/>
<circle cx="1086.41" cy="933.9" r="3.1" fill="#333333"/>
<circle cx="1086.41" cy="937.7" r="3.1" fill="#333333"/>
<line x1="1086.41" x2="1086.41" y1="823.4" y2="863.2" stroke="#333333" stroke-width="2.4"/>
<line x1="1086.41" x2="1086.41" y1="889.6" y2="930.7" stroke="#333333" stroke-width="2.4"/>
<rect x="1060.11" y="863.2" width="52.6" height="26.4" fill="#8B7B8B" stroke="#333333" stroke-width="2.4"/>
<line x1="1060.11" x2="1112.71" y1="876.6" y2="876.6" stroke="#333333" stroke-width="4.4"/>
<circle cx="1161.58" cy="819.3" r="3.1" fill="#333333"/>
<circle cx="1161.58" cy="821" r="3.1" fill="#333333"/>
<line x1="1161.58" x2="1161.58" y1="825.1" y2="863.4" stroke="#333333" stroke-width="2.4"/>
<line x1="1161.58" x2="1161.58" y1="889.6" y2="928.1" stroke="#333333" stroke-width="2.4"/>
<rect x="1135.28" y="863.4" width="52.6" height="26.2" fill="#EEDC82" stroke="#333333" stroke-width="2.4"/>
<line x1="1135.28" x2="1187.88" y1="876.5" y2="876.5" stroke="#333333" stroke-width="4.4"/>
<circle cx="1236.75" cy="822.5" r="3.1" fill="#333333"/>
<line x1="1236.75" x2="1236.75" y1="826.1" y2="863.8" stroke="#333333" stroke-width="2.4"/>
<line x1="1236.75" x2="1236.75" y1="890" y2="929.6" stroke="#333333" stroke-width="2.4"/>
<rect x="1210.45" y="863.8" width="52.6" height="26.2" fill="#CD950C" stroke="#333333" stroke-width="2.4"/>
<line x1="1210.45" x2="1263.05" y1="876.5" y2="876.5" stroke="#333333" stroke-width="4.4"/>
<circle cx="1311.92" cy="819.1" r="3.1" fill="#333333"/>
<circle cx="1311.92" cy="824" r="3.1" fill="#333333"/>
<circle cx="1311.92" cy="929.6" r="3.1" fill="#333333"/>
<line x1="1311.92" x2="1311.92" y1="827.2" y2="863.6" stroke="#333333" stroke-width="2.4"/>
<line x1="1311.92" x2="1311.92" y1="889.6" y2="927.5" stroke="#333333" stroke-width="2.4"/>
<rect x="1285.62" y="863.6" width="52.6" height="26" fill="#A2CD5A" stroke="#333333" stroke-width="2.4"/>
<line x1="1285.62" x2="1338.22" y1="876.5" y2="876.5" stroke="#333333" stroke-width="4.4"/>
<circle cx="1387.09" cy="821.9" r="3.1" fill="#333333"/>
<circle cx="1387.09" cy="823.4" r="3.1" fill="#333333"/>
<circle cx="1387.09" cy="928.1" r="3.1" fill="#333333"/>
<circle cx="1387.09" cy="929.6" r="3.1" fill="#333333"/>
<line x1="1387.09" x2="1387.09" y1="827.2" y2="864" stroke="#333333" stroke-width="2.4"/>
<line x1="1387.09" x2="1387.09" y1="889.4" y2="925.3" stroke="#333333" stroke-width="2.4"/>
<rect x="1360.79" y="864" width="52.6" height="25.4" fill="#006400" stroke="#333333" stroke-width="2.4"/>
<line x1="1360.79" x2="1413.39" y1="876.5" y2="876.5" stroke="#333333" stroke-width="4.4"/>
<line x1="816.7" x2="1431.2" y1="876.4" y2="876.4" stroke="#FF0000" stroke-width="4.5"/>
</g>
<rect x="816.7" y="684.9" width="614.5" height="382" fill="none" stroke="#333333" stroke-width="1.9"/>
<rect x="816.7" y="614.1" width="614.5" height="70.8" fill="#D9D9D9" stroke="#333333" stroke-width="2.4"/>
<line x1="815.6" x2="1432.3" y1="684.6" y2="684.6" stroke="#333333" stroke-width="3.8"/>
<text x="1123.95" y="661.9" font-size="36.7" text-anchor="middle" fill="#1A1A1A" stroke="#1A1A1A" stroke-width="0.5">Z.1=1, Z.3=1</text>
<line x1="165" x2="176.2" y1="760.2" y2="760.2" stroke="#333333" stroke-width="4.2"/>
<text transform="translate(156.1,769.2) scale(1,0.925)" font-size="25" text-anchor="end" fill="#4D4D4D" stroke="#4D4D4D" stroke-width="0.3">0.2</text>
<line x1="165" x2="176.2" y1="876.4" y2="876.4" stroke="#333333" stroke-width="4.2"/>
<text transform="translate(156.1,885.4) scale(1,0.925)" font-size="25" text-anchor="end" fill="#4D4D4D" stroke="#4D4D4D" stroke-width="0.3">0.0</text>
<line x1="165" x2="176.2" y1="992.6" y2="992.6" stroke="#333333" stroke-width="4.2"/>
<text transform="translate(156.1,1001.6) scale(1,0.925)" font-size="25" text-anchor="end" fill="#4D4D4D" stroke="#4D4D4D" stroke-width="0.3">-0.2</text>
<text transform="translate(85.4,637) rotate(-90)" font-size="45.8" font-weight="bold" text-anchor="middle" fill="#000">Bias</text>
<clipPath id="c5"><rect x="176.5" y="1287" width="614.5" height="323.7"/></clipPath>
<g clip-path="url(#c5)">
<rect x="176.5" y="1287" width="614.5" height="323.7" fill="#fff"/>
<line x1="176.5" x2="791" y1="1549.96" y2="1549.96" stroke="#EBEBEB" stroke-width="2.1"/>
<line x1="176.5" x2="791" y1="1456.28" y2="1456.28" stroke="#EBEBEB" stroke-width="2.1"/>
<line x1="176.5" x2="791" y1="1362.6" y2="1362.6" stroke="#EBEBEB" stroke-width="2.1"/>
<line x1="176.5" x2="791" y1="1268.92" y2="1268.92" stroke="#EBEBEB" stroke-width="2.1"/>
<line x1="176.5" x2="791" y1="1596.8" y2="1596.8" stroke="#EBEBEB" stroke-width="4.3"/>
<line x1="176.5" x2="791" y1="1503.12" y2="1503.12" stroke="#EBEBEB" stroke-width="4.3"/>
<line x1="176.5" x2="791" y1="1409.44" y2="1409.44" stroke="#EBEBEB" stroke-width="4.3"/>
<line x1="176.5" x2="791" y1="1315.76" y2="1315.76" stroke="#EBEBEB" stroke-width="4.3"/>
<line x1="220.7" x2="220.7" y1="1287" y2="1610.7" stroke="#EBEBEB" stroke-width="4.3"/>
<line x1="295.87" x2="295.87" y1="1287" y2="1610.7" stroke="#EBEBEB" stroke-width="4.3"/>
<line x1="371.04" x2="371.04" y1="1287" y2="1610.7" stroke="#EBEBEB" stroke-width="4.3"/>
<line x1="446.21" x2="446.21" y1="1287" y2="1610.7" stroke="#EBEBEB" stroke-width="4.3"/>
<line x1="521.38" x2="521.38" y1="1287" y2="1610.7" stroke="#EBEBEB" stroke-width="4.3"/>
<line x1="596.55" x2="596.55" y1="1287" y2="1610.7" stroke="#EBEBEB" stroke-width="4.3"/>
<line x1="671.72" x2="671.72" y1="1287" y2="1610.7" stroke="#EBEBEB" stroke-width="4.3"/>
<line x1="746.89" x2="746.89" y1="1287" y2="1610.7" stroke="#EBEBEB" stroke-width="4.3"/>
<rect x="198.05" y="1343.86" width="45.3" height="252.94" fill="#ADD8E6"/>
<rect x="273.22" y="1348.55" width="45.3" height="248.25" fill="#00688B"/>
<rect x="348.39" y="1339.18" width="45.3" height="257.62" fill="#EED2EE"/>
<rect x="423.56" y="1343.86" width="45.3" height="252.94" fill="#8B7B8B"/>
<rect x="498.73" y="1390.7" width="45.3" height="206.1" fill="#EEDC82"/>
<rect x="573.9" y="1390.7" width="45.3" height="206.1" fill="#CD950C"/>
<rect x="649.07" y="1395.39" width="45.3" height="201.41" fill="#A2CD5A"/>
<rect x="724.24" y="1395.39" width="45.3" height="201.41" fill="#006400"/>
</g>
<rect x="176.5" y="1287" width="614.5" height="323.7" fill="none" stroke="#333333" stroke-width="1.9"/>
<rect x="176.5" y="1216.3" width="614.5" height="70.7" fill="#D9D9D9" stroke="#333333" stroke-width="2.4"/>
<line x1="175.4" x2="792.1" y1="1286.7" y2="1286.7" stroke="#333333" stroke-width="3.8"/>
<text x="483.75" y="1264.05" font-size="36.7" text-anchor="middle" fill="#1A1A1A" stroke="#1A1A1A" stroke-width="0.5">Z.1=0, Z.3=0</text>
<clipPath id="c6"><rect x="816.2" y="1287" width="614.5" height="323.7"/></clipPath>
<g clip-path="url(#c6)">
<rect x="816.2" y="1287" width="614.5" height="323.7" fill="#fff"/>
<line x1="816.2" x2="1430.7" y1="1549.96" y2="1549.96" stroke="#EBEBEB" stroke-width="2.1"/>
<line x1="816.2" x2="1430.7" y1="1456.28" y2="1456.28" stroke="#EBEBEB" stroke-width="2.1"/>
<line x1="816.2" x2="1430.7" y1="1362.6" y2="1362.6" stroke="#EBEBEB" stroke-width="2.1"/>
<line x1="816.2" x2="1430.7" y1="1268.92" y2="1268.92" stroke="#EBEBEB" stroke-width="2.1"/>
<line x1="816.2" x2="1430.7" y1="1596.8" y2="1596.8" stroke="#EBEBEB" stroke-width="4.3"/>
<line x1="816.2" x2="1430.7" y1="1503.12" y2="1503.12" stroke="#EBEBEB" stroke-width="4.3"/>
<line x1="816.2" x2="1430.7" y1="1409.44" y2="1409.44" stroke="#EBEBEB" stroke-width="4.3"/>
<line x1="816.2" x2="1430.7" y1="1315.76" y2="1315.76" stroke="#EBEBEB" stroke-width="4.3"/>
<line x1="860.4" x2="860.4" y1="1287" y2="1610.7" stroke="#EBEBEB" stroke-width="4.3"/>
<line x1="935.57" x2="935.57" y1="1287" y2="1610.7" stroke="#EBEBEB" stroke-width="4.3"/>
<line x1="1010.74" x2="1010.74" y1="1287" y2="1610.7" stroke="#EBEBEB" stroke-width="4.3"/>
<line x1="1085.91" x2="1085.91" y1="1287" y2="1610.7" stroke="#EBEBEB" stroke-width="4.3"/>
<line x1="1161.08" x2="1161.08" y1="1287" y2="1610.7" stroke="#EBEBEB" stroke-width="4.3"/>
<line x1="1236.25" x2="1236.25" y1="1287" y2="1610.7" stroke="#EBEBEB" stroke-width="4.3"/>
<line x1="1311.42" x2="1311.42" y1="1287" y2="1610.7" stroke="#EBEBEB" stroke-width="4.3"/>
<line x1="1386.59" x2="1386.59" y1="1287" y2="1610.7" stroke="#EBEBEB" stroke-width="4.3"/>
<rect x="837.75" y="1386.02" width="45.3" height="210.78" fill="#ADD8E6"/>
<rect x="912.92" y="1381.34" width="45.3" height="215.46" fill="#00688B"/>
<rect x="988.09" y="1381.34" width="45.3" height="215.46" fill="#EED2EE"/>
<rect x="1063.26" y="1381.34" width="45.3" height="215.46" fill="#8B7B8B"/>
<rect x="1138.43" y="1400.07" width="45.3" height="196.73" fill="#EEDC82"/>
<rect x="1213.6" y="1400.07" width="45.3" height="196.73" fill="#CD950C"/>
<rect x="1288.77" y="1404.76" width="45.3" height="192.04" fill="#A2CD5A"/>
<rect x="1363.94" y="1404.76" width="45.3" height="192.04" fill="#006400"/>
</g>
<rect x="816.2" y="1287" width="614.5" height="323.7" fill="none" stroke="#333333" stroke-width="1.9"/>
<rect x="816.2" y="1216.3" width="614.5" height="70.7" fill="#D9D9D9" stroke="#333333" stroke-width="2.4"/>
<line x1="815.1" x2="1431.8" y1="1286.7" y2="1286.7" stroke="#333333" stroke-width="3.8"/>
<text x="1123.45" y="1264.05" font-size="36.7" text-anchor="middle" fill="#1A1A1A" stroke="#1A1A1A" stroke-width="0.5">Z.1=0, Z.3=1</text>
<line x1="164.4" x2="175.6" y1="1596.8" y2="1596.8" stroke="#333333" stroke-width="4.2"/>
<text transform="translate(155.5,1605.8) scale(1,0.925)" font-size="25" text-anchor="end" fill="#4D4D4D" stroke="#4D4D4D" stroke-width="0.3">0.00</text>
<line x1="164.4" x2="175.6" y1="1503.12" y2="1503.12" stroke="#333333" stroke-width="4.2"/>
<text transform="translate(155.5,1512.12) scale(1,0.925)" font-size="25" text-anchor="end" fill="#4D4D4D" stroke="#4D4D4D" stroke-width="0.3">0.02</text>
<line x1="164.4" x2="175.6" y1="1409.44" y2="1409.44" stroke="#333333" stroke-width="4.2"/>
<text transform="translate(155.5,1418.44) scale(1,0.925)" font-size="25" text-anchor="end" fill="#4D4D4D" stroke="#4D4D4D" stroke-width="0.3">0.04</text>
<line x1="164.4" x2="175.6" y1="1315.76" y2="1315.76" stroke="#333333" stroke-width="4.2"/>
<text transform="translate(155.5,1324.76) scale(1,0.925)" font-size="25" text-anchor="end" fill="#4D4D4D" stroke="#4D4D4D" stroke-width="0.3">0.06</text>
<clipPath id="c7"><rect x="176.5" y="1706.3" width="614.5" height="323.4"/></clipPath>
<g clip-path="url(#c7)">
<rect x="176.5" y="1706.3" width="614.5" height="323.4" fill="#fff"/>
<line x1="176.5" x2="791" y1="1968.96" y2="1968.96" stroke="#EBEBEB" stroke-width="2.1"/>
<line x1="176.5" x2="791" y1="1875.28" y2="1875.28" stroke="#EBEBEB" stroke-width="2.1"/>
<line x1="176.5" x2="791" y1="1781.6" y2="1781.6" stroke="#EBEBEB" stroke-width="2.1"/>
<line x1="176.5" x2="791" y1="1687.92" y2="1687.92" stroke="#EBEBEB" stroke-width="2.1"/>
<line x1="176.5" x2="791" y1="2015.8" y2="2015.8" stroke="#EBEBEB" stroke-width="4.3"/>
<line x1="176.5" x2="791" y1="1922.12" y2="1922.12" stroke="#EBEBEB" stroke-width="4.3"/>
<line x1="176.5" x2="791" y1="1828.44" y2="1828.44" stroke="#EBEBEB" stroke-width="4.3"/>
<line x1="176.5" x2="791" y1="1734.76" y2="1734.76" stroke="#EBEBEB" stroke-width="4.3"/>
<line x1="220.7" x2="220.7" y1="1706.3" y2="2029.7" stroke="#EBEBEB" stroke-width="4.3"/>
<line x1="295.87" x2="295.87" y1="1706.3" y2="2029.7" stroke="#EBEBEB" stroke-width="4.3"/>
<line x1="371.04" x2="371.04" y1="1706.3" y2="2029.7" stroke="#EBEBEB" stroke-width="4.3"/>
<line x1="446.21" x2="446.21" y1="1706.3" y2="2029.7" stroke="#EBEBEB" stroke-width="4.3"/>
<line x1="521.38" x2="521.38" y1="1706.3" y2="2029.7" stroke="#EBEBEB" stroke-width="4.3"/>
<line x1="596.55" x2="596.55" y1="1706.3" y2="2029.7" stroke="#EBEBEB" stroke-width="4.3"/>
<line x1="671.72" x2="671.72" y1="1706.3" y2="2029.7" stroke="#EBEBEB" stroke-width="4.3"/>
<line x1="746.89" x2="746.89" y1="1706.3" y2="2029.7" stroke="#EBEBEB" stroke-width="4.3"/>
<rect x="198.05" y="1720.71" width="45.3" height="295.09" fill="#ADD8E6"/>
<rect x="273.22" y="1730.08" width="45.3" height="285.72" fill="#00688B"/>
<rect x="348.39" y="1720.71" width="45.3" height="295.09" fill="#EED2EE"/>
<rect x="423.56" y="1725.39" width="45.3" height="290.41" fill="#8B7B8B"/>
<rect x="498.73" y="1828.44" width="45.3" height="187.36" fill="#EEDC82"/>
<rect x="573.9" y="1828.44" width="45.3" height="187.36" fill="#CD950C"/>
<rect x="649.07" y="1828.44" width="45.3" height="187.36" fill="#A2CD5A"/>
<rect x="724.24" y="1833.12" width="45.3" height="182.68" fill="#006400"/>
</g>
<rect x="176.5" y="1706.3" width="614.5" height="323.4" fill="none" stroke="#333333" stroke-width="1.9"/>
<rect x="176.5" y="1635.4" width="614.5" height="70.9" fill="#D9D9D9" stroke="#333333" stroke-width="2.4"/>
<line x1="175.4" x2="792.1" y1="1706" y2="1706" stroke="#333333" stroke-width="3.8"/>
<text x="483.75" y="1683.25" font-size="36.7" text-anchor="middle" fill="#1A1A1A" stroke="#1A1A1A" stroke-width="0.5">Z.1=1, Z.3=0</text>
<clipPath id="c8"><rect x="816.2" y="1706.3" width="614.5" height="323.4"/></clipPath>
<g clip-path="url(#c8)">
<rect x="816.2" y="1706.3" width="614.5" height="323.4" fill="#fff"/>
<line x1="816.2" x2="1430.7" y1="1968.96" y2="1968.96" stroke="#EBEBEB" stroke-width="2.1"/>
<line x1="816.2" x2="1430.7" y1="1875.28" y2="1875.28" stroke="#EBEBEB" stroke-width="2.1"/>
<line x1="816.2" x2="1430.7" y1="1781.6" y2="1781.6" stroke="#EBEBEB" stroke-width="2.1"/>
<line x1="816.2" x2="1430.7" y1="1687.92" y2="1687.92" stroke="#EBEBEB" stroke-width="2.1"/>
<line x1="816.2" x2="1430.7" y1="2015.8" y2="2015.8" stroke="#EBEBEB" stroke-width="4.3"/>
<line x1="816.2" x2="1430.7" y1="1922.12" y2="1922.12" stroke="#EBEBEB" stroke-width="4.3"/>
<line x1="816.2" x2="1430.7" y1="1828.44" y2="1828.44" stroke="#EBEBEB" stroke-width="4.3"/>
<line x1="816.2" x2="1430.7" y1="1734.76" y2="1734.76" stroke="#EBEBEB" stroke-width="4.3"/>
<line x1="860.4" x2="860.4" y1="1706.3" y2="2029.7" stroke="#EBEBEB" stroke-width="4.3"/>
<line x1="935.57" x2="935.57" y1="1706.3" y2="2029.7" stroke="#EBEBEB" stroke-width="4.3"/>
<line x1="1010.74" x2="1010.74" y1="1706.3" y2="2029.7" stroke="#EBEBEB" stroke-width="4.3"/>
<line x1="1085.91" x2="1085.91" y1="1706.3" y2="2029.7" stroke="#EBEBEB" stroke-width="4.3"/>
<line x1="1161.08" x2="1161.08" y1="1706.3" y2="2029.7" stroke="#EBEBEB" stroke-width="4.3"/>
<line x1="1236.25" x2="1236.25" y1="1706.3" y2="2029.7" stroke="#EBEBEB" stroke-width="4.3"/>
<line x1="1311.42" x2="1311.42" y1="1706.3" y2="2029.7" stroke="#EBEBEB" stroke-width="4.3"/>
<line x1="1386.59" x2="1386.59" y1="1706.3" y2="2029.7" stroke="#EBEBEB" stroke-width="4.3"/>
<rect x="837.75" y="1790.97" width="45.3" height="224.83" fill="#ADD8E6"/>
<rect x="912.92" y="1795.65" width="45.3" height="220.15" fill="#00688B"/>
<rect x="988.09" y="1790.97" width="45.3" height="224.83" fill="#EED2EE"/>
<rect x="1063.26" y="1795.65" width="45.3" height="220.15" fill="#8B7B8B"/>
<rect x="1138.43" y="1814.39" width="45.3" height="201.41" fill="#EEDC82"/>
<rect x="1213.6" y="1819.07" width="45.3" height="196.73" fill="#CD950C"/>
<rect x="1288.77" y="1819.07" width="45.3" height="196.73" fill="#A2CD5A"/>
<rect x="1363.94" y="1819.07" width="45.3" height="196.73" fill="#006400"/>
</g>
<rect x="816.2" y="1706.3" width="614.5" height="323.4" fill="none" stroke="#333333" stroke-width="1.9"/>
<rect x="816.2" y="1635.4" width="614.5" height="70.9" fill="#D9D9D9" stroke="#333333" stroke-width="2.4"/>
<line x1="815.1" x2="1431.8" y1="1706" y2="1706" stroke="#333333" stroke-width="3.8"/>
<text x="1123.45" y="1683.25" font-size="36.7" text-anchor="middle" fill="#1A1A1A" stroke="#1A1A1A" stroke-width="0.5">Z.1=1, Z.3=1</text>
<line x1="164.4" x2="175.6" y1="2015.8" y2="2015.8" stroke="#333333" stroke-width="4.2"/>
<text transform="translate(155.5,2024.8) scale(1,0.925)" font-size="25" text-anchor="end" fill="#4D4D4D" stroke="#4D4D4D" stroke-width="0.3">0.00</text>
<line x1="164.4" x2="175.6" y1="1922.12" y2="1922.12" stroke="#333333" stroke-width="4.2"/>
<text transform="translate(155.5,1931.12) scale(1,0.925)" font-size="25" text-anchor="end" fill="#4D4D4D" stroke="#4D4D4D" stroke-width="0.3">0.02</text>
<line x1="164.4" x2="175.6" y1="1828.44" y2="1828.44" stroke="#333333" stroke-width="4.2"/>
<text transform="translate(155.5,1837.44) scale(1,0.925)" font-size="25" text-anchor="end" fill="#4D4D4D" stroke="#4D4D4D" stroke-width="0.3">0.04</text>
<line x1="164.4" x2="175.6" y1="1734.76" y2="1734.76" stroke="#333333" stroke-width="4.2"/>
<text transform="translate(155.5,1743.76) scale(1,0.925)" font-size="25" text-anchor="end" fill="#4D4D4D" stroke="#4D4D4D" stroke-width="0.3">0.06</text>
<text transform="translate(85.4,1659) rotate(-90)" font-size="45.8" font-weight="bold" text-anchor="middle" fill="#000">RMSE</text>
<text x="133.8" y="2168.7" font-size="31.25" fill="#000" stroke="#000" stroke-width="0.45">Method</text>
<rect x="272.4" y="2115" width="26.6" height="26.6" fill="#ADD8E6"/>
<text x="326.2" y="2139.7" font-size="31.25" fill="#000" stroke="#000" stroke-width="0.45">TMLE+S</text>
<rect x="272.4" y="2173.3" width="26.6" height="26.6" fill="#00688B"/>
<text x="326.2" y="2198" font-size="31.25" fill="#000" stroke="#000" stroke-width="0.45">TMLE+T</text>
<rect x="484" y="2115" width="26.6" height="26.6" fill="#EED2EE"/>
<text x="538.5" y="2139.7" font-size="31.25" fill="#000" stroke="#000" stroke-width="0.45">TMLE+S+LASSO</text>
<rect x="484" y="2173.3" width="26.6" height="26.6" fill="#8B7B8B"/>
<text x="538.5" y="2198" font-size="31.25" fill="#000" stroke="#000" stroke-width="0.45">TMLE+T+LASSO</text>
<rect x="826.4" y="2115" width="26.6" height="26.6" fill="#EEDC82"/>
<text x="879.7" y="2139.7" font-size="31.25" fill="#000" stroke="#000" stroke-width="0.45">TMLE+S+SL</text>
<rect x="826.4" y="2173.3" width="26.6" height="26.6" fill="#CD950C"/>
<text x="879.7" y="2198" font-size="31.25" fill="#000" stroke="#000" stroke-width="0.45">TMLE+T+SL</text>
<rect x="1098.3" y="2115" width="26.6" height="26.6" fill="#A2CD5A"/>
<text x="1151.8" y="2139.7" font-size="31.25" fill="#000" stroke="#000" stroke-width="0.45">TMLE+S+SL+LASSO</text>
<rect x="1098.3" y="2173.3" width="26.6" height="26.6" fill="#006400"/>
<text x="1151.8" y="2198" font-size="31.25" fill="#000" stroke="#000" stroke-width="0.45">TMLE+T+SL+LASSO</text>
</svg>
</body>
</html>
